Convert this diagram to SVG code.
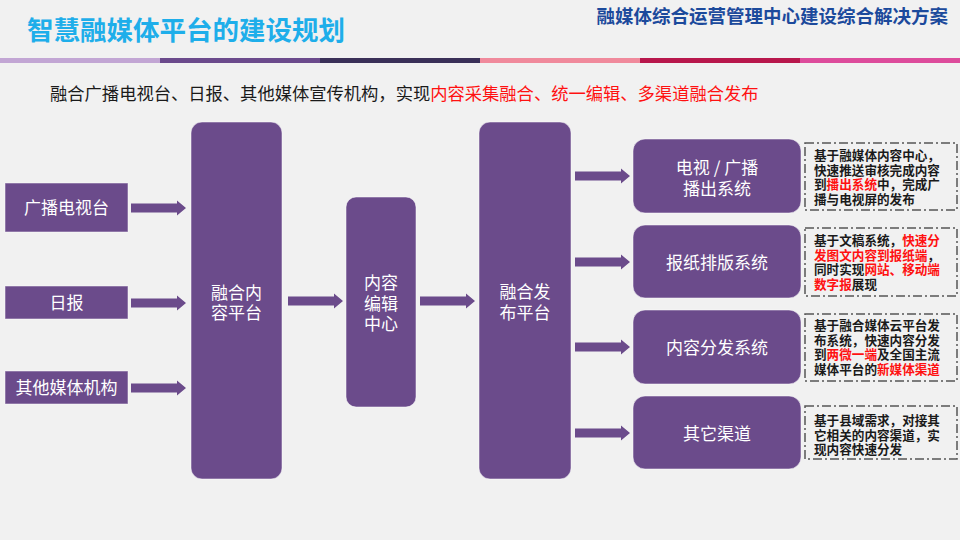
<svg xmlns="http://www.w3.org/2000/svg" xmlns:xlink="http://www.w3.org/1999/xlink" width="960" height="540" viewBox="0 0 960 540">
<style>
.box{fill:#6b4b8b;stroke:#ffffff;stroke-opacity:0.5;stroke-width:1}
.wt{fill:#ffffff;font-family:"Noto Sans CJK SC","Microsoft YaHei",sans-serif;font-size:17px;text-anchor:middle}
.note{fill:none;stroke:#555555;stroke-width:1.5;stroke-dasharray:9 3 2 3}
.nt{fill:#1a1a1a;font-family:"Noto Sans CJK SC",sans-serif;font-size:12.6px;font-weight:bold}
.r{fill:#ff1111}
.arrow{fill:#6b4b8b}
</style>
<defs>
<path id="arr" d="M0,-4.5 H46 V-7.5 L55,0 L46,7.5 V4.5 H0 Z"/>
</defs>
<rect x="0" y="0" width="960" height="540" fill="#f1f1f1"/>
<g id="header">
<text x="27" y="40" font-family="'Noto Sans CJK SC',sans-serif" font-size="26.5" font-weight="bold" fill="#1eaeea">智慧融媒体平台的建设规划</text>
<text x="948" y="23" text-anchor="end" font-family="'Noto Sans CJK SC',sans-serif" font-size="18.5" font-weight="bold" fill="#1c4a9c">融媒体综合运营管理中心建设综合解决方案</text>
<rect x="0" y="58" width="160" height="5" fill="#c2a6d4"/>
<rect x="160" y="58" width="160" height="5" fill="#6b4a8c"/>
<rect x="320" y="58" width="160" height="5" fill="#3a3058"/>
<rect x="480" y="58" width="160" height="5" fill="#f08a9c"/>
<rect x="640" y="58" width="160" height="5" fill="#b8174c"/>
<rect x="800" y="58" width="160" height="5" fill="#dd4c9c"/>
<text x="50" y="100" font-family="'Noto Sans CJK SC',sans-serif" font-size="17.3" fill="#1a1a1a">融合广播电视台、日报、其他媒体宣传机构，实现<tspan fill="#ff1111">内容采集融合、统一编辑、多渠道融合发布</tspan></text>
</g>
<g id="connectors">
<use xlink:href="#arr" class="arrow" x="131" y="208"/>
<use xlink:href="#arr" class="arrow" x="131" y="303"/>
<use xlink:href="#arr" class="arrow" x="131" y="388"/>
<use xlink:href="#arr" class="arrow" x="288" y="301"/>
<use xlink:href="#arr" class="arrow" x="420" y="301"/>
<use xlink:href="#arr" class="arrow" x="575" y="176"/>
<use xlink:href="#arr" class="arrow" x="575" y="262"/>
<use xlink:href="#arr" class="arrow" x="575" y="347"/>
<use xlink:href="#arr" class="arrow" x="575" y="433"/>
</g>
<g id="node-guangbo">
<rect class="box" x="5" y="183" width="123" height="49"/>
<text class="wt" x="66.5" y="214">广播电视台</text>
</g>
<g id="node-ribao">
<rect class="box" x="5" y="286" width="123" height="33"/>
<text class="wt" x="66.5" y="309">日报</text>
</g>
<g id="node-qita">
<rect class="box" x="5" y="371" width="123" height="33"/>
<text class="wt" x="66.5" y="394">其他媒体机构</text>
</g>
<g id="node-ronghe-neirong">
<rect class="box" x="191" y="122" width="91" height="357" rx="11"/>
<text class="wt" x="236.5" y="299">融合内</text>
<text class="wt" x="236.5" y="319">容平台</text>
</g>
<g id="node-bianji">
<rect class="box" x="346" y="197" width="70" height="210" rx="10"/>
<text class="wt" x="381" y="289">内容</text>
<text class="wt" x="381" y="310">编辑</text>
<text class="wt" x="381" y="330">中心</text>
</g>
<g id="node-fabu">
<rect class="box" x="479" y="122" width="92" height="357" rx="11"/>
<text class="wt" x="525" y="298">融合发</text>
<text class="wt" x="525" y="319">布平台</text>
</g>
<g id="node-dianshi">
<rect class="box" x="633" y="139" width="168" height="74" rx="12"/>
<text class="wt" x="717" y="174" font-size="17.5">电视 / 广播</text>
<text class="wt" x="717" y="195" font-size="17.5">播出系统</text>
</g>
<g id="node-baozhi">
<rect class="box" x="633" y="225" width="168" height="73" rx="12"/>
<text class="wt" x="717" y="269" font-size="17.5">报纸排版系统</text>
</g>
<g id="node-fenfa">
<rect class="box" x="633" y="310" width="168" height="74" rx="12"/>
<text class="wt" x="717" y="354" font-size="17.5">内容分发系统</text>
</g>
<g id="node-qudao">
<rect class="box" x="633" y="396" width="168" height="73" rx="12"/>
<text class="wt" x="717" y="440" font-size="17.5">其它渠道</text>
</g>
<g id="note-1">
<rect class="note" x="805" y="143" width="152" height="67"/>
<text class="nt" x="814" y="160">基于融媒体内容中心，</text>
<text class="nt" x="814" y="174.5">快速推送审核完成内容</text>
<text class="nt" x="814" y="189">到<tspan class="r">播出系统</tspan>中，完成广</text>
<text class="nt" x="814" y="203.5">播与电视屏的发布</text>
</g>
<g id="note-2">
<rect class="note" x="805" y="228" width="152" height="68"/>
<text class="nt" x="814" y="245">基于文稿系统，<tspan class="r">快速分</tspan></text>
<text class="nt" x="814" y="259.5"><tspan class="r">发图文内容到报纸端</tspan>，</text>
<text class="nt" x="814" y="274">同时实现<tspan class="r">网站、移动端</tspan></text>
<text class="nt" x="814" y="288.5"><tspan class="r">数字报</tspan>展现</text>
</g>
<g id="note-3">
<rect class="note" x="805" y="314" width="152" height="67"/>
<text class="nt" x="814" y="330">基于融合媒体云平台发</text>
<text class="nt" x="814" y="344.5">布系统，快速内容分发</text>
<text class="nt" x="814" y="359">到<tspan class="r">两微一端</tspan>及全国主流</text>
<text class="nt" x="814" y="373.5">媒体平台的<tspan class="r">新媒体渠道</tspan></text>
</g>
<g id="note-4">
<rect class="note" x="805" y="406" width="152" height="53"/>
<text class="nt" x="814" y="425">基于县域需求，对接其</text>
<text class="nt" x="814" y="439.5">它相关的内容渠道，实</text>
<text class="nt" x="814" y="454">现内容快速分发</text>
</g>
</svg>
